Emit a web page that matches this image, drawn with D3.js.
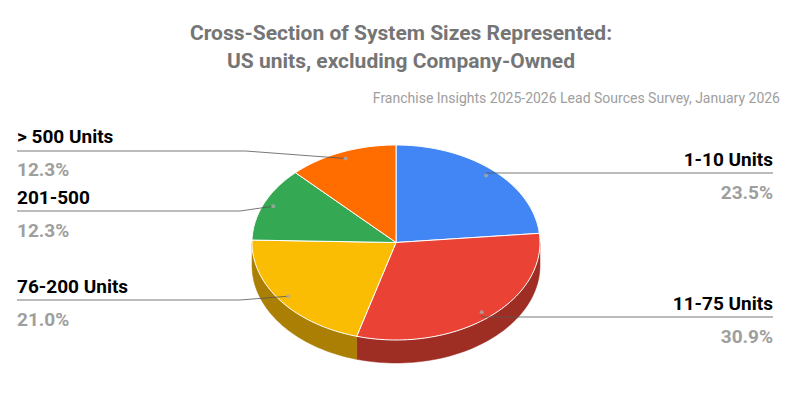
<!DOCTYPE html><html><head><meta charset="utf-8">
<script src="https://cdn.jsdelivr.net/npm/d3@7"></script>
<style>body{margin:0;background:#fff}text{font-family:Roboto,Arial,sans-serif}</style></head><body>
<svg id="c" width="802" height="411"></svg>
<script>
const categories=["1-10 Units","11-75 Units","76-200 Units","201-500","> 500 Units"];
const values=[23.5,30.9,21.0,12.3,12.3];
const colors=["#4285f4","#ea4335","#fbbc04","#34a853","#ff6d01"];
const labelSide=["right","right","left","left","left"];
const labelY=[166,310,293,204,143];
const lineY=[173,317,300,211,151];

const svg=d3.select("#c");
const cx=396,cy=242.5,rx=144,ry=97.5,depth=23;
const pie=d3.pie().sort(null).value(d=>d)(values);
const pt=(a,r=1,dy=0)=>[cx+rx*r*Math.sin(a),cy-ry*r*Math.cos(a)+dy];
function arcPts(a0,a1,dy){const n=60,p=[];for(let i=0;i<=n;i++){p.push(pt(a0+(a1-a0)*i/n,1,dy));}return p;}
// side walls
const g=svg.append("g");
pie.forEach((s,i)=>{
  const a0=Math.max(s.startAngle,Math.PI/2),a1=Math.min(s.endAngle,3*Math.PI/2);
  if(a1<=a0)return;
  const top=arcPts(a0,a1,0),bot=arcPts(a1,a0,depth);
  g.append("path").attr("d","M"+top.concat(bot).map(p=>p.join(",")).join("L")+"Z")
   .attr("fill",d3.color(colors[i]).darker(1.1)).attr("stroke",d3.color(colors[i]).darker(1.1)).attr("stroke-width",0.5);
});
pie.forEach((s,i)=>{
  const p=arcPts(s.startAngle,s.endAngle,0);
  g.append("path").attr("d","M"+cx+","+cy+"L"+p.map(q=>q.join(",")).join("L")+"Z")
   .attr("fill",colors[i]).attr("stroke","#fff").attr("stroke-width",1);
});
// labels
pie.forEach((s,i)=>{
  const m=(s.startAngle+s.endAngle)/2, d=pt(m,0.93);
  const right=labelSide[i]==="right";
  const xEdge=right?773:17;
  const bend=right?Math.min(d[0]+20,700):Math.max(d[0]-100,240);
  svg.append("path").attr("d",right?`M${xEdge},${lineY[i]}L${d[0]},${lineY[i]}L${d[0]},${d[1]}`:`M${xEdge},${lineY[i]}L${bend},${lineY[i]}L${d[0]},${d[1]}`)
   .attr("fill","none").attr("stroke","#555").attr("stroke-width",0.8);
  svg.append("circle").attr("cx",d[0]).attr("cy",d[1]).attr("r",2).attr("fill","#aaa").attr("opacity",0.8);
  const anchor=right?"end":"start";
  svg.append("text").attr("x",xEdge).attr("y",labelY[i]).attr("text-anchor",anchor).attr("font-size",19).attr("font-weight","bold").attr("fill","#000").text(categories[i]);
  svg.append("text").attr("x",xEdge).attr("y",labelY[i]+33).attr("text-anchor",anchor).attr("font-size",19).attr("font-weight","bold").attr("fill","#9e9e9e").text(values[i].toFixed(1)+"%");
});
svg.append("text").attr("x",401).attr("y",40).attr("text-anchor","middle").attr("font-size",21).attr("font-weight","bold").attr("fill","#757575").text("Cross-Section of System Sizes Represented:");
svg.append("text").attr("x",401).attr("y",68).attr("text-anchor","middle").attr("font-size",21).attr("font-weight","bold").attr("fill","#757575").text("US units, excluding Company-Owned");
svg.append("text").attr("x",780).attr("y",103).attr("text-anchor","end").attr("font-size",14).attr("fill","#9e9e9e").text("Franchise Insights 2025-2026 Lead Sources Survey, January 2026");
</script></body></html>
